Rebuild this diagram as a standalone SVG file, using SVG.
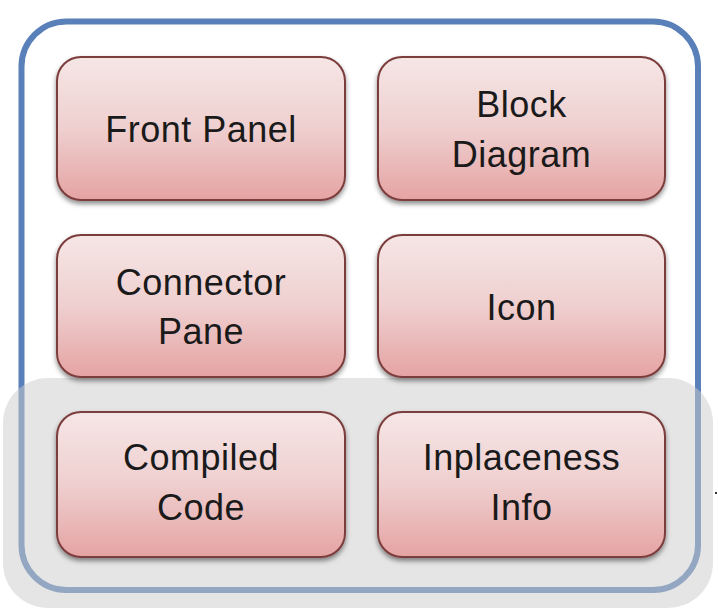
<svg xmlns="http://www.w3.org/2000/svg" width="718" height="615" viewBox="0 0 718 615">
<defs>
<linearGradient id="boxg" x1="0" y1="0" x2="0" y2="1">
<stop offset="0" stop-color="#f6e6e6"/>
<stop offset="0.5" stop-color="#efcfcf"/>
<stop offset="1" stop-color="#e5a3a3"/>
</linearGradient>
<filter id="sh" x="-10%" y="-10%" width="120%" height="130%">
<feDropShadow dx="0" dy="3" stdDeviation="2.5" flood-color="#000" flood-opacity="0.45"/>
</filter>
<style>
.box{fill:url(#boxg);stroke:#7c3c3c;stroke-width:2;filter:url(#sh)}
.lbl{font-family:"Liberation Sans",Arial,sans-serif;font-size:36px;fill:#1a1a1a;text-anchor:middle;letter-spacing:0.5px}
</style>
</defs>
<rect width="718" height="615" fill="#ffffff"/>
<g id="frame">
<rect x="21.5" y="21.5" width="676.5" height="568.5" rx="45" fill="#ffffff" stroke="#5a80b9" stroke-width="6"/>
</g>
<g id="compiled-region">
<rect x="3" y="378" width="710" height="230" rx="45" fill="#cccccc" fill-opacity="0.5"/>
</g>
<g id="connectors"></g>
<g id="front-panel">
<rect class="box" x="57" y="57" width="288" height="143" rx="24"/>
<text class="lbl" x="201" y="142">Front Panel</text>
</g>
<g id="block-diagram">
<rect class="box" x="378" y="57" width="287" height="143" rx="24"/>
<text class="lbl" x="521.5" y="117">Block</text>
<text class="lbl" x="521.5" y="167">Diagram</text>
</g>
<g id="connector-pane">
<rect class="box" x="57" y="235" width="288" height="142" rx="24"/>
<text class="lbl" x="201" y="295">Connector</text>
<text class="lbl" x="201" y="344">Pane</text>
</g>
<g id="icon">
<rect class="box" x="378" y="235" width="287" height="142" rx="24"/>
<text class="lbl" x="521.5" y="320">Icon</text>
</g>
<g id="compiled-code">
<rect class="box" x="57" y="412" width="288" height="145" rx="24"/>
<text class="lbl" x="201" y="470">Compiled</text>
<text class="lbl" x="201" y="520">Code</text>
</g>
<g id="inplaceness-info">
<rect class="box" x="378" y="412" width="287" height="145" rx="24"/>
<text class="lbl" x="521.5" y="470">Inplaceness</text>
<text class="lbl" x="521.5" y="520">Info</text>
</g>
<rect x="715" y="492" width="2" height="2" fill="#333333"/>
</svg>
